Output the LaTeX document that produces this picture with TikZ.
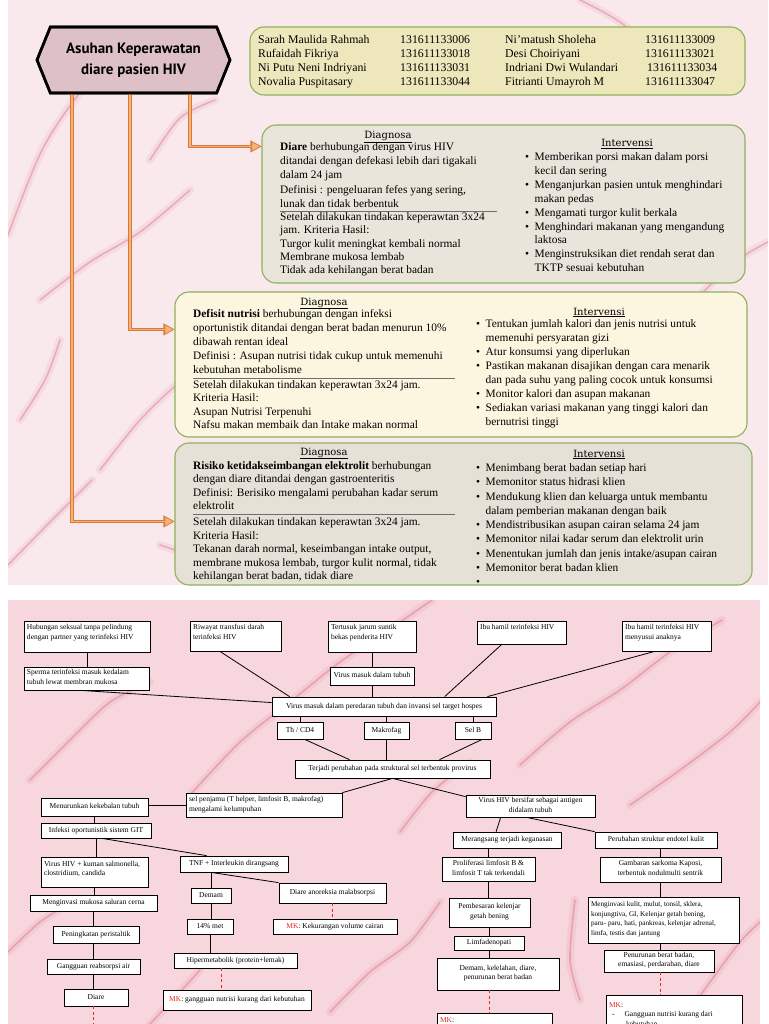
\documentclass[tikz,border=0pt]{standalone}
\usepackage{fontspec}
\setmainfont{Liberation Serif}
\newfontfamily\titlefont{PT Sans}
\newfontfamily\headfont{DejaVu Serif}
\usetikzlibrary{calc,arrows.meta,shapes.symbols}
\definecolor{topbg}{RGB}{249,233,237}
\definecolor{botbg}{RGB}{247,214,221}
\definecolor{veinc}{RGB}{212,88,115}
\definecolor{hexc}{RGB}{221,193,199}
\definecolor{namebg}{RGB}{239,231,188}
\definecolor{boxa}{RGB}{233,229,219}
\definecolor{boxb}{RGB}{252,246,224}
\definecolor{boxc}{RGB}{229,225,214}
\definecolor{gborder}{RGB}{140,178,92}
\definecolor{odark}{RGB}{214,122,60}
\definecolor{olight}{RGB}{248,178,118}
\definecolor{mkred}{RGB}{232,40,40}
\definecolor{rulec}{RGB}{110,110,110}
\newcommand\flowf{\fontsize{7.5}{9.6}\selectfont}
\newcommand\headf{\headfont\fontsize{10}{12}\selectfont}
\newcommand\blt{\makebox[9.5pt][l]{\textbullet}}
\newcommand\ind{\hspace*{9.5pt}}
\newcommand\mk[1]{\textcolor{mkred}{#1}}
\newcommand\bfs[1]{\fontsize{11.4}{#1}\selectfont}
\newcommand\vein[1]{%
  \draw[vein, line width=8pt, opacity=.10] plot[smooth] coordinates {#1};
  \draw[vein, line width=1.6pt, opacity=.35] plot[smooth] coordinates {#1};}
\newcommand\gnode[6]{%
  \pgfmathsetmacro\gw{#4-#2}\pgfmathsetmacro\gh{#5-#3}%
  \pgfmathsetmacro\gx{(#2+#4)/2}\pgfmathsetmacro\gy{(#3+#5)/2}%
  \node[gbox, fill=#6, minimum width=\gw pt, minimum height=\gh pt] (#1) at (\gx,\gy) {};}
\newcommand\fnode[8]{%
  \pgfmathsetmacro\fw{#4-#2-6}\pgfmathsetmacro\fh{#5-#3}%
  \pgfmathsetmacro\fx{(#2+#4)/2}\pgfmathsetmacro\fy{(#3+#5)/2}%
  \node[fb] (#1) at (\fx,\fy) {\parbox[c][\fh pt][#6]{\fw pt}{#7#8\strut}};}
\tikzset{
  fb/.style={draw=black, line width=0.75pt, fill=white, inner xsep=3pt, inner ysep=0pt, font=\flowf},
  cn/.style={draw=black, line width=0.8pt},
  rd/.style={draw=mkred, line width=1.1pt, dash pattern=on 3pt off 2.5pt},
  gbox/.style={draw=gborder, line width=1.1pt, rounded corners=14pt, inner sep=0pt},
  txt/.style={anchor=base west, align=left, inner sep=0pt},
  hd/.style={anchor=base, inner sep=0pt, font=\headf},
  vein/.style={draw=veinc, line cap=round, line join=round},
  oout/.style={draw=odark, line width=3.6pt, -{Triangle[length=11pt,width=12pt,line width=0.2pt]}},
  oin/.style={draw=olight, line width=1.8pt, shorten >=1.8pt, -{Triangle[length=7.5pt,width=8pt,line width=0.2pt]}},
  rulel/.style={draw=rulec, line width=0.6pt},
}
\begin{document}
\begin{tikzpicture}[x=1pt,y=-1pt]
\useasboundingbox (0,0) rectangle (768,1024);
\fill[white] (0,0) rectangle (768,1024);
\fill[topbg] (8,0) rectangle (768,585);
\fill[botbg] (8,600) rectangle (760,1024);
\begin{scope}
\clip (8,0) rectangle (768,585);
\vein{(8,235) (25,190) (42,150) (60,120) (78,95)}
\vein{(40,300) (90,262) (140,232) (190,190)}
\vein{(100,470) (140,420) (180,382) (215,360) (262,330)}
\vein{(8,565) (50,522) (92,480)}
\vein{(150,160) (180,118) (215,100)}
\vein{(580,0) (620,22) (665,60)}
\vein{(690,305) (735,262) (768,242)}
\vein{(235,585) (200,560) (160,545)}
\vein{(20,420) (45,380) (60,340)}
\end{scope}
\begin{scope}
\clip (8,600) rectangle (760,1024);
\vein{(190,795) (240,742) (290,702) (340,662) (400,622) (432,600)}
\vein{(30,780) (70,740) (110,702) (150,682)}
\vein{(520,765) (570,722) (620,690) (670,652) (722,620)}
\vein{(630,805) (680,770) (730,732) (760,702)}
\vein{(680,1024) (710,982) (740,942) (760,922)}
\vein{(330,1012) (370,972) (410,942) (440,902)}
\vein{(8,952) (40,922) (72,902)}
\vein{(400,832) (432,792) (470,762)}
\vein{(150,1024) (180,992) (200,970)}
\vein{(580,1000) (570,960) (575,900)}
\end{scope}
% names box
\gnode{names}{250}{27}{745}{95}{namebg}
\node[anchor=base west, inner sep=0pt, font=\fontsize{11.8}{13.7}\selectfont] (namestxt) at (258,44) {%
\begin{tabular}[t]{@{}p{142pt}@{}p{105pt}@{}p{140pt}@{}l@{}}
Sarah Maulida Rahmah & 131611133006 & Ni'matush Sholeha & 131611133009\\
Rufaidah Fikriya & 131611133018 & Desi Choiriyani & 131611133021\\
Ni Putu Neni Indriyani & 131611133031 & Indriani Dwi Wulandari & \hspace{2pt}131611133034\\
Novalia Puspitasary & 131611133044 & Fitrianti Umayroh M & 131611133047
\end{tabular}};
% diagnosis boxes
\gnode{d1}{262}{125}{745}{283}{boxa}
\gnode{d2}{175}{292}{747}{437}{boxb}
\gnode{d3}{175}{443}{752}{585}{boxc}
% box 1 (node base = baseline of last line)
\node[hd] (d1h) at (388,139) {\underline{Diagnosa}};
\node[txt, font=\bfs{14.2}] (d1a) at (280,207.3) {\textbf{Diare} berhubungan dengan virus HIV\\ditandai dengan defekasi lebih dari tigakali\\dalam 24 jam\\Definisi : pengeluaran fefes yang sering,\\lunak dan tidak berbentuk};
\draw[rulel] (280,211) -- (497,211);
\node[txt, font=\bfs{13.3}] (d1b) at (280,273.7) {Setelah dilakukan tindakan keperawtan 3x24\\jam. Kriteria Hasil:\\Turgor kulit meningkat kembali normal\\Membrane mukosa lembab\\Tidak ada kehilangan berat badan};
\node[hd] (d1ih) at (627,147) {\underline{Intervensi}};
\node[txt, font=\bfs{13.9}] (d1i) at (525,271.7) {\blt Memberikan porsi makan dalam porsi\\\ind kecil dan sering\\\blt Menganjurkan pasien untuk menghindari\\\ind makan pedas\\\blt Mengamati turgor kulit berkala\\\blt Menghindari makanan yang mengandung\\\ind laktosa\\\blt Menginstruksikan diet rendah serat dan\\\ind TKTP sesuai kebutuhan};
% box 2
\node[hd] (d2h) at (324,305) {\underline{Diagnosa}};
\node[txt, font=\bfs{14}] (d2a) at (193,373.5) {\textbf{Defisit nutrisi} berhubungan dengan infeksi\\oportunistik ditandai dengan berat badan menurun 10\%\\dibawah rentan ideal\\Definisi : Asupan nutrisi tidak cukup untuk memenuhi\\kebutuhan metabolisme};
\draw[rulel] (193,378) -- (455,378);
\node[txt, font=\bfs{13.3}] (d2b) at (193,428.4) {Setelah dilakukan tindakan keperawtan 3x24 jam.\\Kriteria Hasil:\\Asupan Nutrisi Terpenuhi\\Nafsu makan membaik dan Intake makan normal};
\node[hd] (d2ih) at (599,315) {\underline{Intervensi}};
\node[txt, font=\bfs{14}] (d2i) at (476,425.5) {\blt Tentukan jumlah kalori dan jenis nutrisi untuk\\\ind memenuhi persyaratan gizi\\\blt Atur konsumsi yang diperlukan\\\blt Pastikan makanan disajikan dengan cara menarik\\\ind dan pada suhu yang paling cocok untuk konsumsi\\\blt Monitor kalori dan asupan makanan\\\blt Sediakan variasi makanan yang tinggi kalori dan\\\ind bernutrisi tinggi};
% box 3
\node[hd] (d3h) at (324,455) {\underline{Diagnosa}};
\node[txt, font=\bfs{13.3}] (d3a) at (193,509.4) {\textbf{Risiko ketidakseimbangan elektrolit} berhubungan\\dengan diare ditandai dengan gastroenteritis\\Definisi: Berisiko mengalami perubahan kadar serum\\elektrolit};
\draw[rulel] (193,514) -- (455,514);
\node[txt, font=\bfs{13.5}] (d3b) at (193,579.5) {Setelah dilakukan tindakan keperawtan 3x24 jam.\\Kriteria Hasil:\\Tekanan darah normal, keseimbangan intake output,\\membrane mukosa lembab, turgor kulit normal, tidak\\kehilangan berat badan, tidak diare};
\node[hd] (d3ih) at (599,457) {\underline{Intervensi}};
\node[txt, font=\bfs{14.25}] (d3i) at (476,585.5) {\blt Menimbang berat badan setiap hari\\\blt Memonitor status hidrasi klien\\\blt Mendukung klien dan keluarga untuk membantu\\\ind dalam pemberian makanan dengan baik\\\blt Mendistribusikan asupan cairan selama 24 jam\\\blt Memonitor nilai kadar serum dan elektrolit urin\\\blt Menentukan jumlah dan jenis intake/asupan cairan\\\blt Memonitor berat badan klien\\\blt};
% title hexagon
\node[signal, signal to=west and east, signal pointer angle=136, draw=black, line width=2.6pt, fill=hexc, minimum width=193pt, minimum height=66pt, inner sep=0pt, align=center, font=\titlefont\bfseries\fontsize{15}{21}\selectfont] (title) at (133.5,60) {Asuhan Keperawatan\\diare pasien HIV};
% orange connectors
\draw[oout] ($(title.south)+(56.5,0)$) |- ($(d1.north west)+(0,22)$);
\draw[oin]  ($(title.south)+(56.5,0)$) |- ($(d1.north west)+(0,22)$);
\draw[oout] ($(title.south)+(-3.5,0)$) |- ($(d2.north west)+(0,38)$);
\draw[oin]  ($(title.south)+(-3.5,0)$) |- ($(d2.north west)+(0,38)$);
\draw[oout] ($(title.south)+(-61.5,0)$) |- ($(d3.north west)+(0,79)$);
\draw[oin]  ($(title.south)+(-61.5,0)$) |- ($(d3.north west)+(0,79)$);
\node[signal, signal to=west and east, signal pointer angle=136, draw=black, line width=2.6pt, minimum width=193pt, minimum height=66pt, inner sep=0pt] (titleframe) at (133.5,60) {};
% flowchart nodes
\fnode{A1}{24}{621}{150}{652}{t}{\raggedright}{\rule{0pt}{8.5pt}Hubungan seksual tanpa pelindung\\dengan partner yang terinfeksi HIV}
\fnode{A2}{190}{621}{281}{651}{t}{\raggedright}{\rule{0pt}{8.5pt}Riwayat transfusi darah\\terinfeksi HIV}
\fnode{A3}{328}{621}{416}{652}{t}{\raggedright}{\rule{0pt}{8.5pt}Tertusuk jarum suntik\\bekas penderita HIV}
\fnode{A4}{477}{621}{566}{644}{t}{\raggedright}{\rule{0pt}{8.5pt}Ibu hamil terinfeksi HIV}
\fnode{A5}{622}{621}{711}{651}{t}{\raggedright}{\rule{0pt}{8.5pt}Ibu hamil terinfeksi HIV\\menyusui anaknya}
\fnode{B1}{24}{667}{149}{690}{t}{\raggedright}{\rule{0pt}{7.5pt}Sperma terinfeksi masuk kedalam\\tubuh lewat membran mukosa}
\fnode{B3}{330}{667}{414}{685}{c}{\centering}{Virus masuk dalam tubuh}
\fnode{C}{272}{697}{496}{716}{c}{\centering}{Virus masuk dalam peredaran tubuh dan invansi sel target hospes}
\fnode{D1}{277}{722}{323}{739}{c}{\centering}{Th / CD4}
\fnode{D2}{364}{722}{409}{739}{c}{\centering}{Makrofag}
\fnode{D3}{455}{722}{491}{739}{c}{\centering}{Sel B}
\fnode{E}{295}{760}{490}{778}{c}{\centering}{Terjadi perubahan pada struktural sel terbentuk provirus}
\fnode{F1}{41}{798}{148}{816}{c}{\centering}{Menurunkan kekebalan tubuh}
\fnode{F2}{186}{793}{342}{817}{c}{\raggedright}{sel penjamu (T helper, limfosit B, makrofag)\\mengalami kelumpuhan}
\fnode{F3}{466}{795}{595}{817}{c}{\centering}{Virus HIV bersifat sebagai antigen\\didalam tubuh}
\fnode{G1}{41}{823}{151}{838}{c}{\centering}{Infeksi oportunistik sistem GIT}
\fnode{G2}{453}{832}{561}{848}{c}{\centering}{Merangsang terjadi keganasan}
\fnode{G3}{595}{832}{717}{848}{c}{\centering}{Perubahan struktur endotel kulit}
\fnode{H1}{41}{857}{148}{887}{t}{\raggedright}{\rule{0pt}{9pt}Virus HIV + kuman salmonella,\\clostridium, candida}
\fnode{H2}{180}{856}{288}{872}{c}{\centering}{TNF + Interleukin dirangsang}
\fnode{H3}{442}{857}{535}{881}{c}{\centering}{Proliferasi limfosit B \&\\limfosit T tak terkendali}
\fnode{H4}{600}{857}{721}{882}{c}{\centering}{Gambaran sarkoma Kaposi,\\terbentuk nodulmulti sentrik}
\fnode{I1}{30}{895}{157}{911}{c}{\centering}{Menginvasi mukosa saluran cerna}
\fnode{I2}{191}{888}{231}{903}{c}{\centering}{Demam}
\fnode{I3}{279}{883}{386}{903}{c}{\centering}{Diare anoreksia malabsorpsi}
\fnode{I4}{449}{898}{530}{927}{c}{\centering}{Pembesaran kelenjar\\getah bening}
\fnode{I5}{588}{897}{739}{943}{c}{\raggedright}{\fontsize{7.2}{9.6}\selectfont Menginvasi kulit, mulut, tonsil, sklera,\\konjungtiva, GI, Kelenjar getah bening,\\paru- paru, hati, pankreas, kelenjar adrenal,\\limfa, testis dan jantung}
\fnode{J2}{187}{919}{233}{934}{c}{\centering}{14\% met}
\fnode{J3}{273}{919}{397}{934}{c}{\centering}{\mk{MK}: Kekurangan volume cairan}
\fnode{J4}{454}{936}{524}{950}{c}{\centering}{Limfadenopati}
\fnode{K1}{53}{926}{139}{943}{c}{\centering}{Peningkatan peristaltik}
\fnode{K4}{437}{958}{559}{990}{c}{\centering}{Demam, kelelahan, diare,\\penurunan berat badan}
\fnode{K5}{604}{950}{714}{972}{c}{\centering}{Penurunan berat badan,\\emasiasi, perdarahan, diare}
\fnode{L1}{47}{959}{140}{974}{c}{\centering}{Gangguan reabsorpsi air}
\fnode{L2}{174}{953}{297}{968}{c}{\centering}{Hipermetabolik (protein+lemak)}
\fnode{M1}{64}{989}{128}{1006}{c}{\centering}{Diare}
\fnode{M2}{163}{990}{311}{1010}{c}{\centering}{\mk{MK}: gangguan nutrisi kurang dari kebutuhan}
\fnode{L4}{437}{1013}{552}{1045}{t}{\raggedright}{\rule{0pt}{9pt}\mk{MK}:}
\fnode{L5}{606}{995}{742}{1045}{t}{\raggedright}{\rule{0pt}{12pt}\mk{MK}:\\\hspace*{3pt}-\hspace{10pt}Gangguan nutrisi kurang dari\\\hspace*{17pt}kebutuhan}
% flowchart connectors
\draw[cn] (A1.south) -- (A1.south |- B1.north);
\draw[cn] ($(A2.south west)!0.33!(A2.south east)$) -- ($(C.north west)!0.08!(C.north east)$);
\draw[cn] (A3.south) -- (A3.south |- B3.north);
\draw[cn] (B3.south) -- (B3.south |- C.north);
\draw[cn] ($(A4.south west)!0.28!(A4.south east)$) -- ($(C.north west)!0.77!(C.north east)$);
\draw[cn] ($(A5.south west)!0.37!(A5.south east)$) -- ($(C.north west)!0.96!(C.north east)$);
\draw[cn] ($(B1.south west)!0.45!(B1.south east)$) -- ($(C.north west)!0.3!(C.south west)$);
\draw[cn] (D1.north |- C.south) -- (D1.north);
\draw[cn] (D2.north |- C.south) -- (D2.north);
\draw[cn] (D3.north |- C.south) -- (D3.north);
\draw[cn] ($(D1.south west)!0.6!(D1.south east)$) -- ($(E.north west)!0.28!(E.north east)$);
\draw[cn] (D2.south) -- (D2.south |- E.north);
\draw[cn] ($(D3.south west)!0.75!(D3.south east)$) -- ($(E.north west)!0.74!(E.north east)$);
\draw[cn] (E.south) -- (F2.north east);
\draw[cn] (E.south) -- ($(F3.north west)+(0,2)$);
\draw[cn] (F2.west) -- (F2.west -| F1.east);
\draw[cn] (F1.south) -- (F1.south |- G1.north);
\draw[cn] (G1.south) -- (G1.south |- H1.north);
\draw[cn] ($(G1.south)+(6,0)$) -- ($(H2.north west)+(27,0)$);
\draw[cn] (H1.south) -- (H1.south |- I1.north);
\draw[cn] (I1.south) -- (I1.south |- K1.north);
\draw[cn] (I1.south |- K1.south) -- (I1.south |- L1.north);
\draw[cn] (I1.south |- L1.south) -- (I1.south |- M1.north);
\draw[rd] (I1.south |- M1.south) -- ++(0,22);
\draw[cn] (I2.north |- H2.south) -- (I2.north);
\draw[cn] (I2.north |- H2.south) -- (I3.north west);
\draw[cn] (I2.south) -- (I2.south |- J2.north);
\draw[cn] (J2.south) -- (J2.south |- L2.north);
\draw[rd] (I3.south) -- (I3.south |- J3.north);
\coordinate (l2d) at ($(L2.south)+(-14,0)$);
\draw[rd] (l2d) -- (l2d |- M2.north);
\draw[cn] ($(F3.south west)!0.27!(F3.south east)$) -- ($(G2.north west)!0.4!(G2.north east)$);
\draw[cn] ($(F3.south west)!0.47!(F3.south east)$) -- (G3.north west);
\draw[cn] (H3.north |- G2.south) -- (H3.north);
\draw[cn] (H3.south) -- (H3.south |- I4.north);
\draw[cn] (I4.south) -- (I4.south |- J4.north);
\draw[cn] (I4.south |- J4.south) -- (I4.south |- K4.north);
\draw[rd] (I4.south |- K4.south) -- (I4.south |- L4.north);
\draw[cn] (H4.north |- G3.south) -- (H4.north);
\draw[cn] (H4.south) -- (H4.south |- I5.north);
\draw[cn] (H4.south |- I5.south) -- (H4.south |- K5.north);
\draw[rd] (H4.south |- K5.south) -- (H4.south |- L5.north);
\end{tikzpicture}
\end{document}
